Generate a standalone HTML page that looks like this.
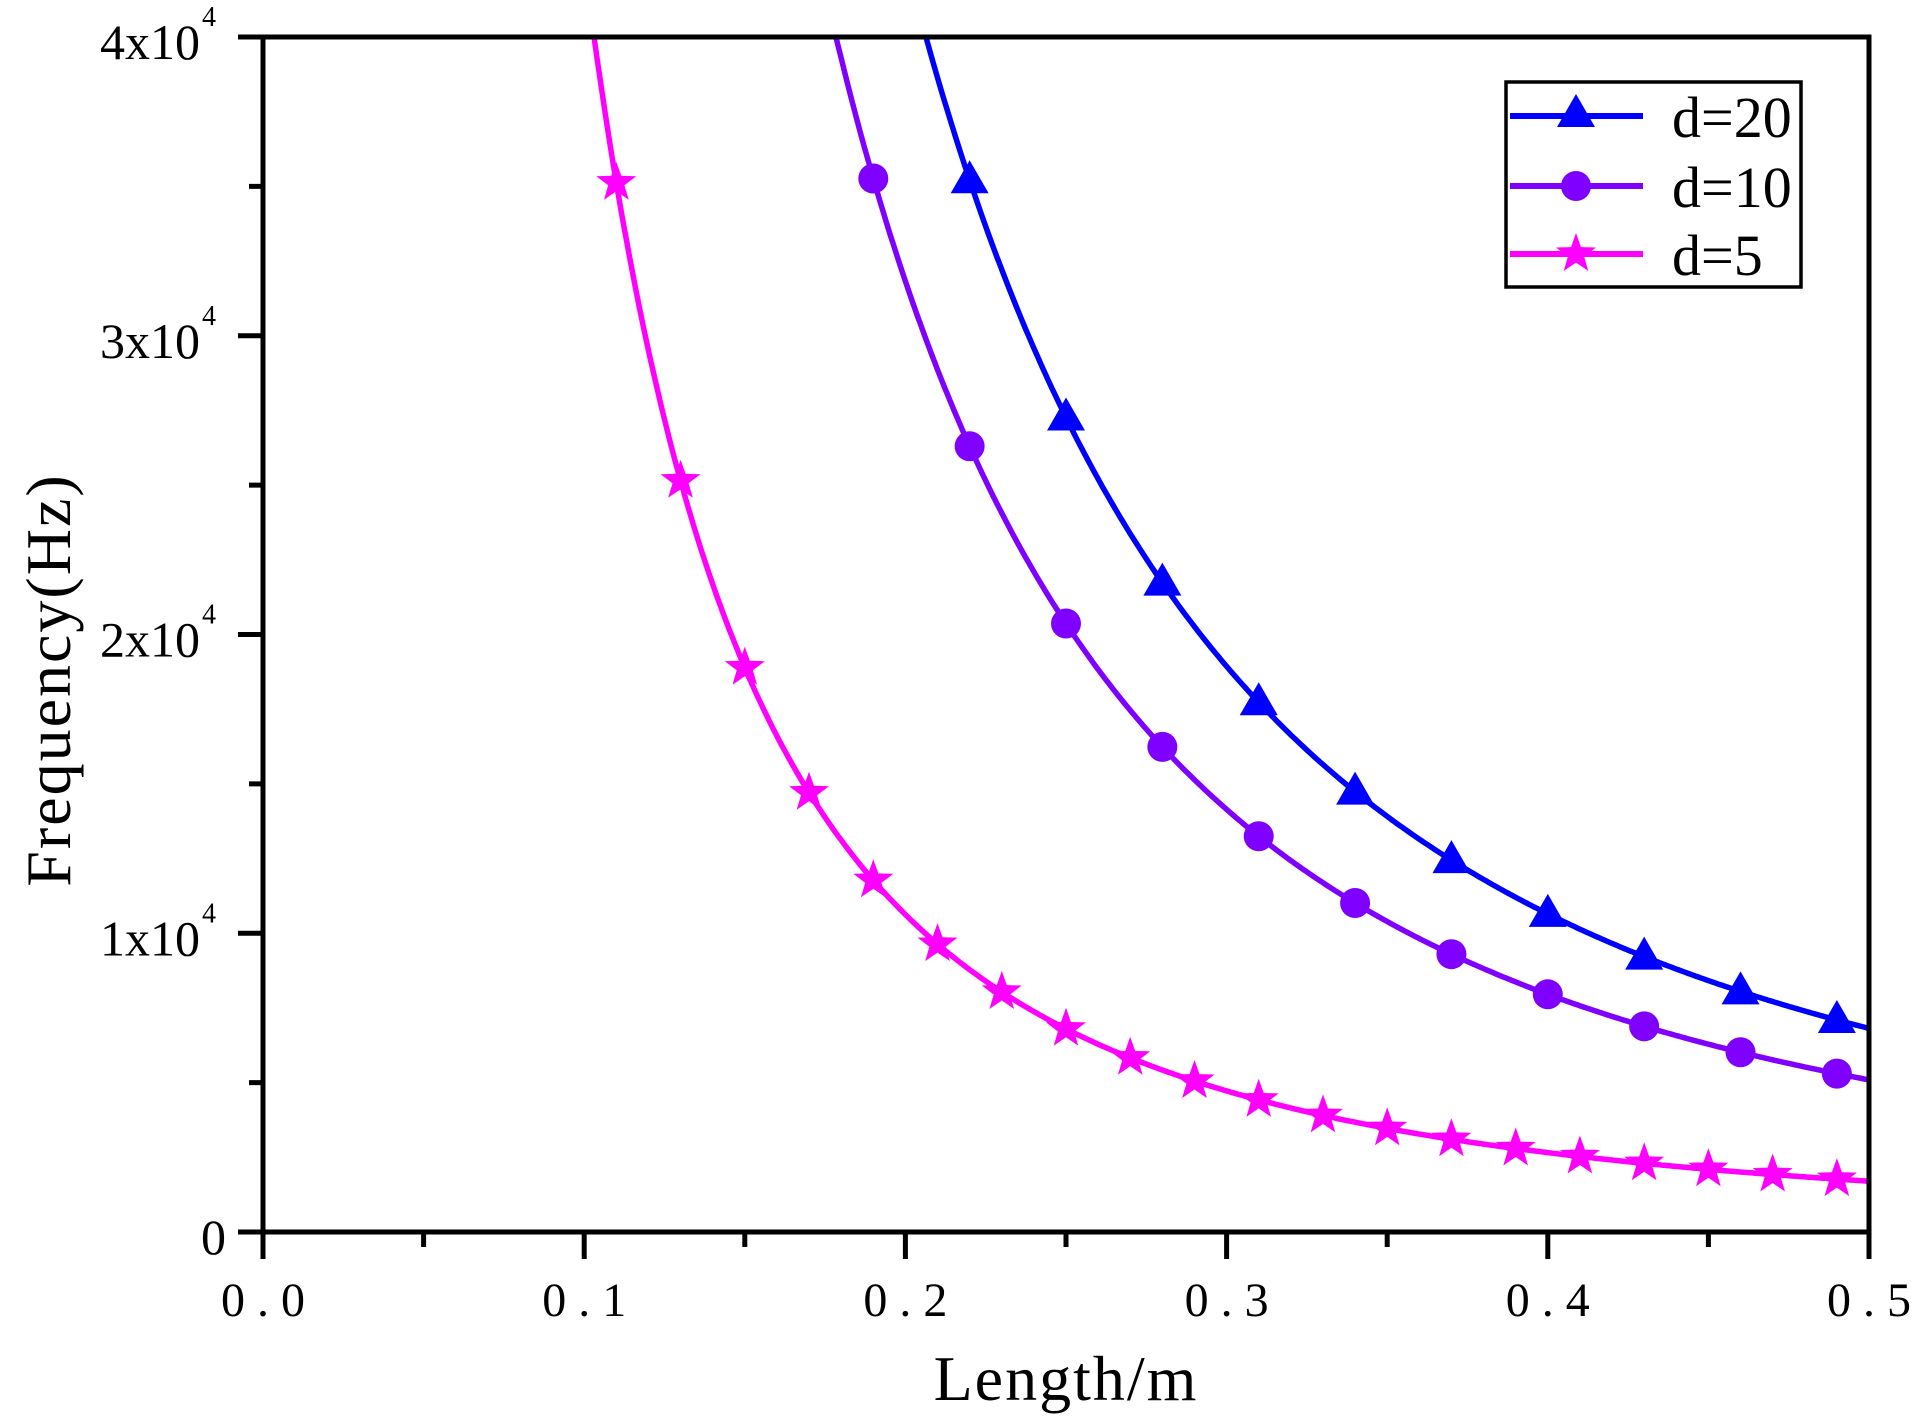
<!DOCTYPE html>
<html><head><meta charset="utf-8"><style>
html,body{margin:0;padding:0;background:#fff;}
svg{display:block;font-family:"Liberation Serif",serif;}
</style></head><body>
<svg id="s" width="1922" height="1425" xmlns="http://www.w3.org/2000/svg">
<defs><clipPath id="c"><rect x="263" y="37" width="1606" height="1195"/></clipPath></defs>
<g id="curves" clip-path="url(#c)"></g>
<g id="axes"></g>
</svg>
<script>
const NS="http://www.w3.org/2000/svg";
const X0=263,X1=1869,Y0=1232,Y1=37;
const X=L=>X0+L/0.5*(X1-X0), Y=f=>Y0-f/40000*(Y0-Y1);
function el(t,a,p){const e=document.createElementNS(NS,t);for(const k in a)e.setAttribute(k,a[k]);(p||document.getElementById('s')).appendChild(e);return e;}
const cg=document.getElementById('curves'), ag=document.getElementById('axes');
function tri(x,y,c,p){el('polygon',{points:`${x},${y-20} ${x-19},${y+13} ${x+19},${y+13}`,fill:c},p);}
function circ(x,y,c,p){el('circle',{cx:x,cy:y,r:15,fill:c},p);}
function star(x,y,c,p){let pts=[];for(let i=0;i<10;i++){const r=i%2?8.5:21,a=-Math.PI/2+i*Math.PI/5;pts.push((x+r*Math.cos(a)).toFixed(1)+','+(y+r*Math.sin(a)).toFixed(1));}el('polygon',{points:pts.join(' '),fill:c},p);}
const series=[
 {k:1704,c:'#0000ff',m:tri,start:0.22,step:0.03},
 {k:1273,c:'#7f00ff',m:circ,start:0.19,step:0.03},
 {k:425,c:'#ff00ff',m:star,start:0.11,step:0.02}];
series.forEach(s=>{
 let d='';for(let i=0;i<=600;i++){const L=0.05+i*(0.45/600);const f=s.k/(L*L);d+=(i?'L':'M')+X(L).toFixed(1)+','+Y(f).toFixed(1);}
 el('path',{d:d,fill:'none',stroke:s.c,'stroke-width':5.5},cg);
 for(let L=s.start;L<0.5;L+=s.step){s.m(X(L),Y(s.k/(L*L)),s.c,cg);}
});
el('rect',{x:X0,y:Y1,width:X1-X0,height:Y0-Y1,fill:'none',stroke:'#000','stroke-width':5},ag);
for(let i=0;i<=10;i++){const x=X(i*0.05);const maj=i%2==0;el('line',{x1:x,y1:Y0,x2:x,y2:Y0+(maj?27:15),stroke:'#000','stroke-width':5},ag);
 if(maj){const t=el('text',{x:x+6,y:1316,'text-anchor':'middle','font-size':48,'letter-spacing':'12'},ag);t.textContent=(i*0.05).toFixed(1);}}
for(let i=0;i<=8;i++){const y=Y(i*5000);const maj=i%2==0;el('line',{x1:X0,y1:y,x2:X0-(maj?25:14),y2:y,stroke:'#000','stroke-width':5},ag);
 if(maj){const v=i/2;const t=el('text',{x:200,y:y+22,'text-anchor':'end','font-size':50},ag);
  if(v==0){t.setAttribute('x',226);t.textContent='0';}
  else{t.textContent=v+'x10';const s2=el('text',{x:202,y:y-11,'font-size':28},ag);s2.textContent='4';}}}
let t=el('text',{x:1066,y:1400,'text-anchor':'middle','font-size':64,'letter-spacing':'2'},ag);t.textContent='Length/m';
t=el('text',{x:0,y:0,'text-anchor':'middle','font-size':64,'letter-spacing':'2',transform:'translate(70,680) rotate(-90)'},ag);t.textContent='Frequency(Hz)';
el('rect',{x:1506,y:82,width:295,height:205,fill:'#fff',stroke:'#000','stroke-width':3.5},ag);
const ly=[116,186,254],lab=['d=20','d=10','d=5'];
series.forEach((s,i)=>{el('line',{x1:1510,y1:ly[i],x2:1643,y2:ly[i],stroke:s.c,'stroke-width':6},ag);s.m(1576,ly[i]-(i==0?2:0),s.c,ag);
 const tt=el('text',{x:1672,y:ly[i]+21,'font-size':58},ag);tt.textContent=lab[i];});
</script>
</body></html>
